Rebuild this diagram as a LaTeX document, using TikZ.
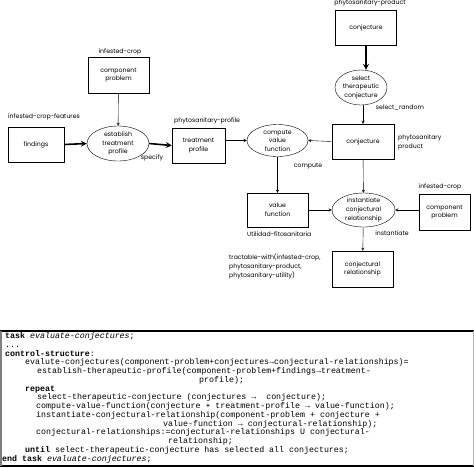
\documentclass[tikz,border=0pt]{standalone}
\usepackage{fontspec}
\setsansfont{Poppins}
\setmonofont{Liberation Mono}
\usetikzlibrary{shapes.geometric}

\begin{document}
\begin{tikzpicture}[x=1pt, y=-1pt, every node/.style={font=\sffamily\fontsize{6.2}{8.6}\selectfont, align=center, inner sep=0pt}, thin, ->, >=stealth]

\tikzstyle{box}=[draw, rectangle, minimum width=61pt, minimum height=35pt]
\tikzstyle{proc}=[draw, ellipse, minimum width=62pt, minimum height=35pt]
\tikzstyle{flow}=[line width=1.6pt]
\tikzstyle{listing}=[anchor=base west, align=left, font=\ttfamily\fontsize{8.3}{8.75}\selectfont]

\useasboundingbox (0,0) rectangle (474,467);

% upper part: findings and treatment profile
\node[box, minimum height=36pt] (cpTop) at (118.5,75) {component\\problem};
\node (cpTopTag) at (120,52) {infested-crop};
\node[box, minimum width=56pt] (findings) at (36,144.5) {findings};
\node[anchor=west] (findingsTag) at (8,117) {infested-crop-features};
\node[proc] (establish) at (118,143.5) {establish\\treatment\\profile};
\node (specify) at (152,158) {specify};
\node[box, minimum width=53pt] (treatment) at (198.5,145.5) {treatment\\profile};
\node[anchor=west] (treatmentTag) at (174,121) {phytosanitary-profile};

% right column: conjectures
\node[box] (conjTop) at (366,27.5) {conjecture};
\node (conjTopTag) at (370,3) {phytosanitary-product};
\node[proc, minimum width=52pt] (select) at (361,87.5) {select\\therapeutic\\conjecture};
\node (selectRandom) at (400,108) {select\_random};
\node[box, minimum width=62pt] (conjMid) at (363,141.5) {conjecture};
\node[anchor=west, align=left] (conjMidTag) at (398,142.5) {phytosanitary\\product};

% value function
\node[proc, minimum width=61pt, minimum height=32pt] (compute) at (277.5,140.5) {compute\\value\\function};
\node (computeTag) at (308,166) {compute};
\node[box, minimum height=34pt] (value) at (277.5,210) {value\\function};
\node[anchor=west] (valueTag) at (247,234) {Utilidad-fitosanitaria};

% conjectural relationship
\node[proc, minimum width=63pt, minimum height=34pt] (instantiate) at (363.5,210) {instantiate\\conjectural\\relationship};
\node (instantiateTag) at (392,233) {instantiate};
\node[box, minimum width=51pt, minimum height=36pt] (cpRight) at (444.5,212) {component\\problem};
\node (cpRightTag) at (440,187) {infested-crop};
\node[box, minimum height=36pt] (conjRel) at (362.5,269) {conjectural\\relationship};
\node[anchor=north west, align=left] (tractable) at (229,254) {tractable-with(infested-crop,\\phytosanitary-product,\\phytosanitary-utility)};

\draw[flow] (findings.east) -- (establish.west);
\draw[flow] (establish.east) -- (treatment.west);
\draw (cpTop) -- (establish);
\draw (treatment.east |- compute) -- (compute.west);
\draw (conjMid.west) -- (compute.east);
\draw[flow] (conjTop.south) -- (conjTop.south |- select.north);
\draw (conjMid.north |- select.south) -- (conjMid.north);
\draw (compute) -- (value);
\draw (value) -- (instantiate);
\draw (conjMid) -- (instantiate);
\draw (cpRight.west |- instantiate) -- (instantiate.east);
\draw (instantiate) -- (conjRel);

% task listing
\draw[-, line width=1.2pt] (0,331) -- (474,331);
\draw[-, line width=2pt] (0,465.5) -- (474,465.5);
\draw[-, gray, line width=1.5pt] (0.75,331) -- (0.75,465.5);
\draw[-, gray!60, line width=1pt] (473.5,331) -- (473.5,465.5);
\node[listing] (code) at (0,461) {%
\hspace*{5pt}\textbf{task} \textit{evaluate-conjectures};\\
\hspace*{5pt}...\\
\hspace*{5pt}\textbf{control-structure}:\\
\hspace*{25pt}evalute-conjectures(component-problem+conjectures→conjectural-relationships)=\\
\hspace*{37pt}establish-therapeutic-profile(component-problem+findings→treatment-\\
\hspace*{199pt}profile);\\
\hspace*{25pt}\textbf{repeat}\\
\hspace*{37pt}select-therapeutic-conjecture (conjectures →~ conjecture);\\
\hspace*{36pt}compute-value-function(conjecture + treatment-profile → value-function);\\
\hspace*{36pt}instantiate-conjectural-relationship(component-problem + conjecture +\\
\hspace*{163pt}value-function → conjectural-relationship);\\
\hspace*{36pt}conjectural-relationships:=conjectural-relationships U conjectural-\\
\hspace*{168pt}relationship;\\
\hspace*{25pt}\textbf{until} select-therapeutic-conjecture has selected all conjectures;\\
\hspace*{2pt}\textbf{end task} \textit{evaluate-conjectures};};

\end{tikzpicture}
\end{document}
